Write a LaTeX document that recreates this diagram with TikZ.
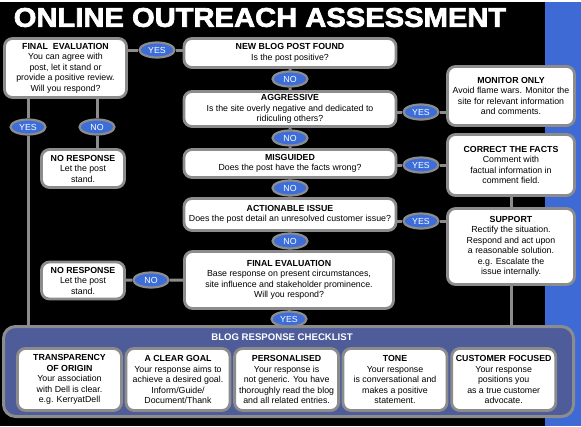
\documentclass[tikz,border=0pt]{standalone}
\usepackage{fontspec}
\setmainfont{Liberation Sans}
\newfontfamily\titlefont{Liberation Sans Bold}[FakeBold=2.5,FakeStretch=1.08]
\usetikzlibrary{shapes.geometric}
\definecolor{linegray}{HTML}{8C8C8C}
\definecolor{ansblue}{HTML}{3C6DD8}
\definecolor{stripblue}{HTML}{3D6AD4}
\definecolor{panelblue}{HTML}{4E5D9A}

\begin{document}
\begin{tikzpicture}[x=1pt,y=-1pt,
	box/.style={draw=linegray, line width=2.8pt, fill=white, rounded corners=8pt, align=center, inner sep=1pt, font=\fontsize{8.8}{10.5}\selectfont},
	answer/.style={ellipse, draw=linegray, line width=2.2pt, fill=ansblue, text=white, minimum width=35pt, minimum height=15pt, inner sep=0pt, font=\fontsize{8.8}{10}\selectfont},
	link/.style={draw=linegray, line width=3pt}]
		% page
		\useasboundingbox (0,0) rectangle (581,426);
		\fill[white] (0,0) rectangle (581,2);
		\fill[black] (0,2) rectangle (581,426);
		\fill[stripblue] (545,2) rectangle (581,426);
		\node[text=white, inner sep=0pt, font=\titlefont\fontsize{27}{27}\selectfont] (title) at (260,17.5) {ONLINE OUTREACH ASSESSMENT};
		% main column
		\node[box, minimum width=212pt, minimum height=29pt] (newpost) at (290,53) {\textbf{NEW BLOG POST FOUND}\\Is the post positive?};
		\node[box, minimum width=212pt, minimum height=35pt] (aggressive) at (290,109) {\textbf{AGGRESSIVE}\\Is the site overly negative and dedicated to\\ridiculing others?};
		\node[box, minimum width=212pt, minimum height=28pt] (misguided) at (290,163.5) {\textbf{MISGUIDED}\\Does the post have the facts wrong?};
		\node[box, minimum width=212pt, minimum height=32pt] (actionable) at (290,214.5) {\textbf{ACTIONABLE ISSUE}\\Does the post detail an unresolved customer issue?};
		\node[box, minimum width=209pt, minimum height=57pt] (finaleval) at (289,280) {\textbf{FINAL EVALUATION}\\Base response on present circumstances,\\site influence and stakeholder prominence.\\Will you respond?};
		\node[answer] (no1) at (290,79) {NO};
		\node[answer] (no2) at (290,138) {NO};
		\node[answer] (no3) at (290,188) {NO};
		\node[answer] (no4) at (290,241) {NO};
		\node[answer] (yes5) at (289,319) {YES};
		% right column
		\node[box, minimum width=127pt, minimum height=59pt] (monitor) at (511,96) {\textbf{MONITOR ONLY}\\Avoid flame wars. Monitor the\\site for relevant information\\and comments.};
		\node[box, minimum width=127pt, minimum height=61pt] (correct) at (511,165) {\textbf{CORRECT THE FACTS}\\Comment with\\factual information in\\comment field.};
		\node[box, minimum width=127pt, minimum height=76pt] (support) at (511,246.5) {\textbf{SUPPORT}\\Rectify the situation.\\Respond and act upon\\a reasonable solution.\\e.g. Escalate the\\issue internally.};
		\node[answer] (yes2) at (421,112) {YES};
		\node[answer] (yes3) at (421,165) {YES};
		\node[answer] (yes4) at (421,221) {YES};
		% left column
		\node[box, minimum width=122pt, minimum height=59pt] (firsteval) at (65.5,68) {\textbf{FINAL\ \ EVALUATION}\\You can agree with\\post, let it stand or\\provide a positive review.\\Will you respond?};
		\node[box, minimum width=83pt, minimum height=38pt] (noresp1) at (83,168.5) {\textbf{NO RESPONSE}\\Let the post\\stand.};
		\node[box, minimum width=83pt, minimum height=37pt] (noresp2) at (83,280.5) {\textbf{NO RESPONSE}\\Let the post\\stand.};
		\node[answer] (yes1) at (157,50) {YES};
		\node[answer] (yes6) at (28,127) {YES};
		\node[answer] (no6) at (97,127) {NO};
		\node[answer] (no5) at (151,280) {NO};
		% checklist
		\node[draw=linegray, line width=3pt, fill=panelblue, rounded corners=12pt, minimum width=570pt, minimum height=90pt] (panel) at (288.5,371.5) {};
		\node[text=white, font=\bfseries\fontsize{9.6}{10}\selectfont] (checktitle) at (282,337) {BLOG RESPONSE CHECKLIST};
		\node[box, minimum width=104pt, minimum height=62pt] (origin) at (69.5,379.5) {\textbf{TRANSPARENCY}\\\textbf{OF ORIGIN}\\Your association\\with Dell is clear.\\e.g. KerryatDell};
		\node[box, minimum width=104pt, minimum height=62pt] (goal) at (178,379.5) {\textbf{A CLEAR GOAL}\\Your response aims to\\achieve a desired goal.\\Inform/Guide/\\Document/Thank};
		\node[box, minimum width=104pt, minimum height=62pt] (personal) at (286.6,379.5) {\textbf{PERSONALISED}\\Your response is\\not generic. You have\\thoroughly read the blog\\and all related entries.};
		\node[box, minimum width=104pt, minimum height=62pt] (tone) at (395,379.5) {\textbf{TONE}\\Your response\\is conversational and\\makes a positive\\statement.};
		\node[box, minimum width=104pt, minimum height=62pt] (focused) at (503.7,379.5) {\textbf{CUSTOMER FOCUSED}\\Your response\\positions you\\as a true customer\\advocate.};
		% connectors
		\draw[link] (yes1 -| firsteval.east) -- (yes1) -- (yes1 -| newpost.west);
		\draw[link] (newpost) -- (no1) -- (aggressive) -- (no2) -- (misguided) -- (no3) -- (actionable) -- (no4) -- (finaleval);
		\draw[link] (finaleval) -- (yes5) -- (yes5 |- panel.north);
		\draw[link] (finaleval) -- (no5) -- (noresp2);
		\draw[link] (yes2 -| aggressive.east) -- (yes2) -- (yes2 -| monitor.west);
		\draw[link] (yes3 -| misguided.east) -- (yes3) -- (yes3 -| correct.west);
		\draw[link] (yes4 -| actionable.east) -- (yes4) -- (yes4 -| support.west);
		\draw[link] (correct) -- (support) -- (support.south |- panel.north);
		\draw[link] (firsteval.south -| yes6) -- (yes6) -- (yes6 |- panel.north);
		\draw[link] (firsteval.south -| no6) -- (no6) -- (no6 |- noresp1.north);
		\end{tikzpicture}
\end{document}
